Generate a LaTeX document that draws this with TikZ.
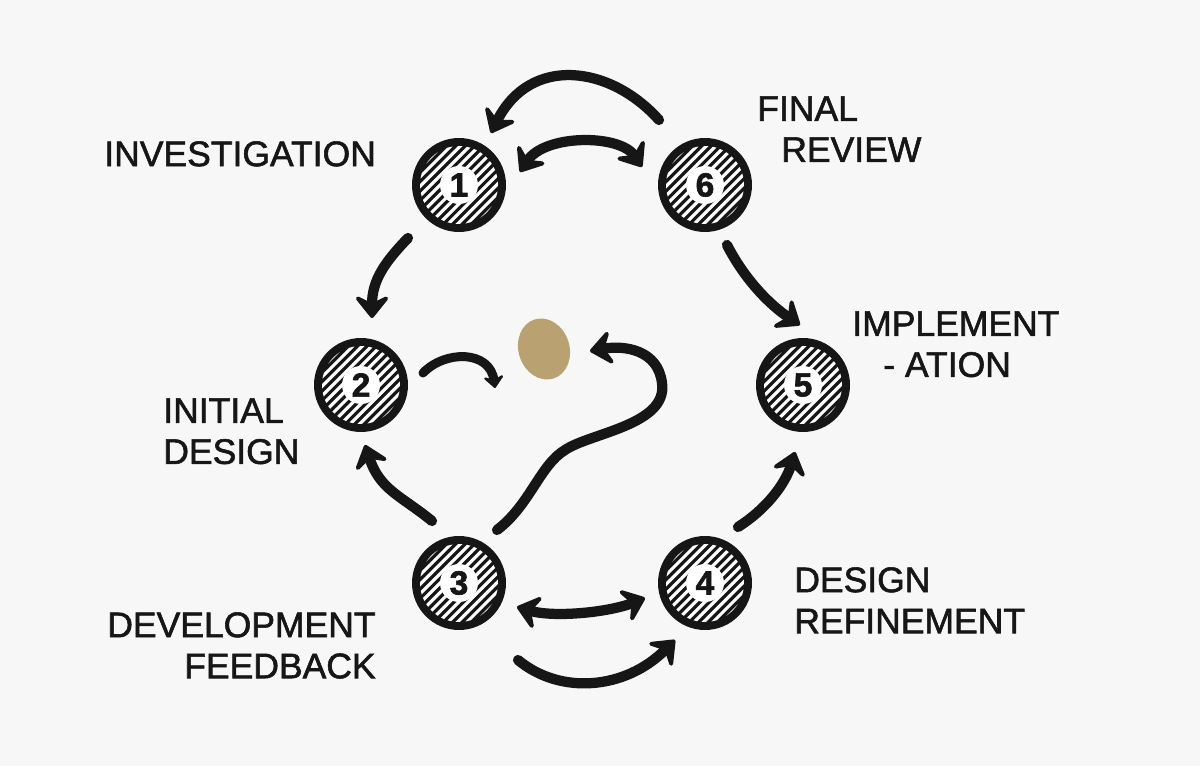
\documentclass[tikz,border=0pt]{standalone}
\usepackage{fontspec}
\setmainfont{Liberation Sans}
\newfontfamily\labelfont[FakeBold=1.6]{Liberation Sans}
\newfontfamily\digitfont[FakeBold=2]{Liberation Sans Bold}
\usepackage{amsmath}
\usetikzlibrary{calc,positioning,arrows.meta,shapes.geometric}
\definecolor{ink}{HTML}{161616}
\definecolor{paper}{HTML}{F7F7F7}
\definecolor{seed}{HTML}{B9A172}
\tikzset{
    station/.style={
        circle,fill=ink,inner sep=0pt,minimum size=1.88cm,text=ink,
        font=\digitfont\fontsize{19}{19}\selectfont,
        path picture={
            \coordinate (pc) at (path picture bounding box.center);
            \clip (pc) circle (39);
            \foreach \k in {-8,...,8}
                \draw[white,line width=1.8pt] ($(pc)+(\k*4.7-60,\k*4.7+60)$) -- ($(pc)+(\k*4.7+60,\k*4.7-60)$);
            \fill[white] (pc) circle (19);
        }
    },
    steplabel/.style={
        anchor=north west,inner sep=0pt,align=left,text=ink,
        font=\labelfont\fontsize{20.2}{23.4}\selectfont
    },
    sketch/.style={
        draw=ink,line width=.205cm,line cap=round,
        >={Stealth[length=15pt,width=24pt,inset=6pt,round,line width=3pt]}
    },
    smallsketch/.style={
        sketch,line width=.18cm,
        >={Stealth[length=8pt,width=14pt,inset=3pt,round,line width=3pt]}
    }
}
\begin{document}
\begin{tikzpicture}[x=.02cm,y=-.02cm]
    \useasboundingbox (0,0) rectangle (1200,766);
    \fill[paper] (0,0) rectangle (1200,766);

    \node[station] (n1) at (459,185) {1};
    \node[station] (n2) at (361,385) {2};
    \node[station] (n3) at (459,583) {3};
    \node[station] (n4) at (705,583) {4};
    \node[station] (n5) at (803,385) {5};
    \node[station] (n6) at (705,185) {6};
    \node[ellipse,fill=seed,inner sep=0pt,minimum width=1.02cm,minimum height=1.24cm,rotate=18] (seed) at (544,349) {};

    \node[steplabel] (investigation) at (104,141) {INVESTIGATION};
    \node[steplabel] (review) at (757,96) {FINAL\\\hspace{.48cm}REVIEW};
    \node[steplabel] (implement) at (852,311) {IMPLEMENT\\\hspace{.62cm}- ATION};
    \node[steplabel] (initial) at (163,398) {INITIAL\\DESIGN};
    \node[steplabel] (feedback) at (107,612) {DEVELOPMENT\\\hspace{1.54cm}FEEDBACK};
    \node[steplabel] (refinement) at (794,567) {DESIGN\\REFINEMENT};

    % outer loop
    \draw[sketch,->] ([shift={(-46,-65)}]n6.center) .. controls (610,65) and (530,55) .. ([shift={(32,-52)}]n1.center);
    \draw[sketch,<->] ([shift={(61,-13)}]n1.center) .. controls (545,134) and (620,134) .. ([shift={(-63,-18)}]n6.center);
    \draw[sketch,->] ([shift={(-51,53)}]n1.center) .. controls (385,262) and (372,280) .. ([shift={(11,-67)}]n2.center);
    \draw[sketch,->] ([shift={(22,60)}]n6.center) .. controls (745,280) and (770,305) .. ([shift={(-3,-60)}]n5.center);
    \draw[sketch,->] ([shift={(-27,-62)}]n3.center) .. controls (400,495) and (380,490) .. ([shift={(4,60)}]n2.center);
    \draw[sketch,->] ([shift={(33,-56)}]n4.center) .. controls (765,510) and (785,485) .. ([shift={(-8,67)}]n5.center);
    \draw[sketch,<->] ([shift={(58,24)}]n3.center) .. controls (555,618) and (610,612) .. ([shift={(-60,15)}]n4.center);
    \draw[sketch,->] ([shift={(59,77)}]n3.center) .. controls (560,695) and (625,690) .. ([shift={(-30,57)}]n4.center);

    % into the middle
    \draw[smallsketch,->] ([shift={(62,-12)}]n2.center) .. controls (445,350) and (490,350) .. ([shift={(-49,39)}]seed.center);
    \draw[sketch,->] ([shift={(38,-53)}]n3.center) .. controls (530,505) and (540,465) .. (565,450)
        .. controls (590,433) and (668,425) .. (662,383)
        .. controls (658,350) and (625,345) .. ([shift={(46,2)}]seed.center);
\end{tikzpicture}
\end{document}
